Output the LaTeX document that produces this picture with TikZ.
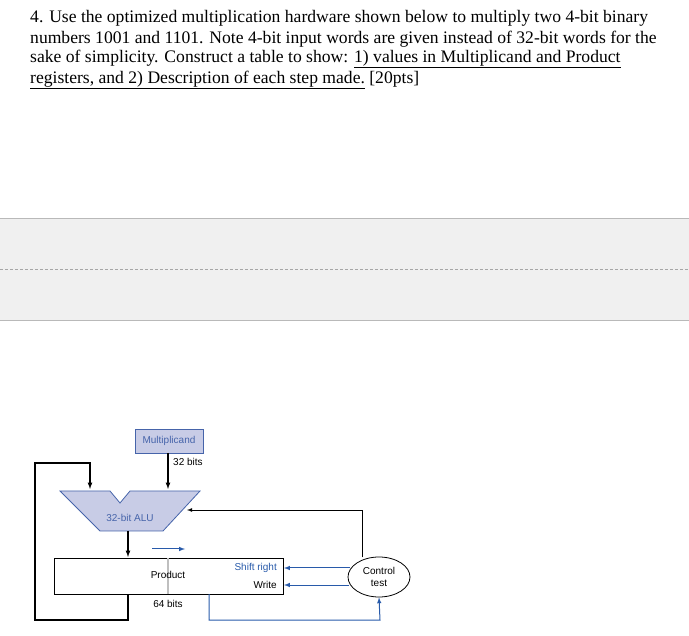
\documentclass[tikz,border=0pt]{standalone}
\usepackage{fontspec}
\usetikzlibrary{shapes.geometric}
\setmainfont{Liberation Serif}
\newfontfamily\diag{Liberation Sans}
\definecolor{dblue}{RGB}{40,90,170}
\definecolor{lblue}{RGB}{200,204,230}
\definecolor{eblue}{RGB}{70,100,170}
\begin{document}
\begin{tikzpicture}[x=1pt,y=-1pt,
  qtext/.style={anchor=west,inner sep=0pt,font=\fontsize{17.6}{20}\selectfont},
  lbl/.style={inner sep=0pt,font=\diag\fontsize{10}{11.5}\selectfont},
  blk/.style={draw=black,line width=1.2pt,-latex},
  blu/.style={draw=dblue,line width=1pt,-latex}]
\useasboundingbox (0,0) rectangle (689,636);
\node[qtext] (l1) at (30,18) {4. Use the optimized multiplication hardware shown below to multiply two 4-bit binary};
\node[qtext] (l2) at (30,39) {numbers 1001 and 1101. Note 4-bit input words are given instead of 32-bit words for the};
\node[qtext] (l3) at (30,59) {sake of simplicity. Construct a table to show: \underline{1) values in Multiplicand and Product}};
\node[qtext] (l4) at (30,80) {\underline{registers, and 2) Description of each step made.} [20pts]};
\fill[gray!12] (0,218) rectangle (689,320);
\draw[gray!55,line width=0.8pt] (0,218) -- (689,218) (0,320) -- (689,320);
\draw[gray!70,dash pattern=on 3pt off 2pt,line width=0.8pt] (0,269) -- (689,269);
% diagram
\node[draw=eblue,fill=lblue,line width=0.8pt,minimum width=68pt,minimum height=24pt,inner sep=0pt,font=\diag\fontsize{10}{11.5}\selectfont,text=eblue] (mc) at (169,441) {Multiplicand};
\node[lbl,anchor=west] (b32) at (173,462) {32 bits};
\draw[draw=eblue,fill=lblue,line width=0.8pt] (60,491) -- (110,491) -- (120,503) -- (130,491) -- (200,491) -- (163,531) -- (100,531) -- cycle;
\node[lbl,text=eblue] (alu) at (130,518) {32-bit ALU};
\coordinate (aluout) at (128,531);
\node[draw,line width=0.8pt,minimum width=229pt,minimum height=36pt,inner sep=0pt] (prod) at (168.5,576) {};
\draw[gray!50,line width=2pt] (168,558) -- (168,594);
\node[lbl] (pt) at (168,575) {Product};
\node[lbl,anchor=east,text=dblue] (sr) at (277,568) {Shift right};
\node[lbl,anchor=east] (wr) at (277,585) {Write};
\node[lbl] (b64) at (168,604) {64 bits};
\node[draw,ellipse,line width=0.8pt,minimum width=62pt,minimum height=40pt,inner sep=0pt,align=center,font=\diag\fontsize{10}{11.5}\selectfont] (ct) at (379,577) {Control\\test};
\draw[blk] (168,453) -- (168,489);
\draw[blk] (128,594) -- (128,620) -- (35,620) -- (35,463) -- (90,463) -- (90,489);
\draw[blk] (aluout) -- (128,557);
\draw[draw=black,line width=0.8pt,-latex] (362,557.5) -- (362,510) -- (187,510);
\draw[blu] (152,549) -- (185,549);
\draw[blu] (350,568) -- (284,568);
\draw[blu] (349,585) -- (284,585);
\draw[blu] (209,594) -- (209,620) -- (380,620) -- (ct.south);
\end{tikzpicture}
\end{document}
